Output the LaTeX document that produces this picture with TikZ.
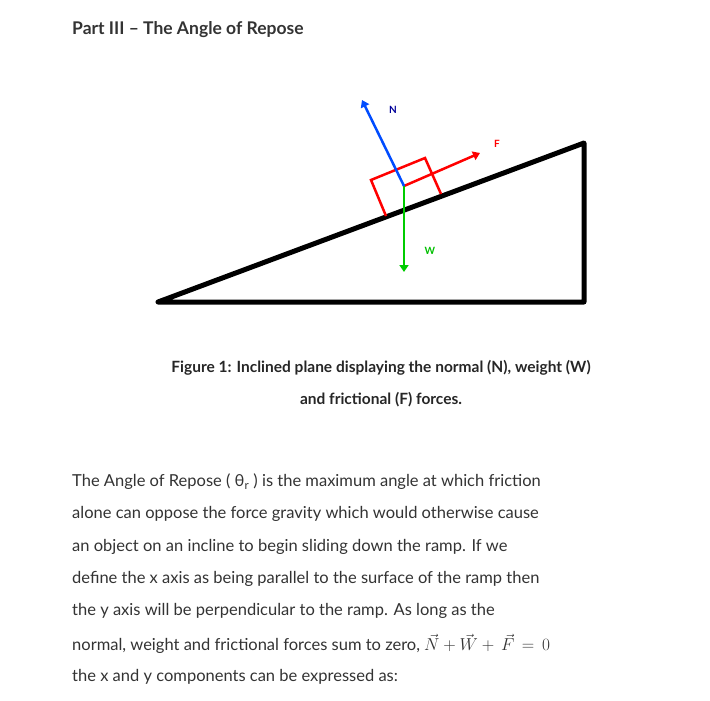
\documentclass[tikz,border=0pt]{standalone}
\usepackage{fontspec}
\setmainfont{Lato}
\usetikzlibrary{arrows.meta}
\begin{document}
\begin{tikzpicture}[x=1pt,y=-1pt,
  line/.style={anchor=west,font=\fontsize{16.5}{18}\selectfont,text=black!80,inner sep=0},
  capt/.style={font=\fontsize{15.5}{18}\selectfont\bfseries,text=black!85,inner sep=0},
  force/.style={line width=2.5pt,-{Triangle[length=7pt,width=9pt]}},
  flab/.style={font=\fontsize{10}{11}\selectfont\bfseries,inner sep=0}]
\useasboundingbox (0,0) rectangle (710,701);
\node[line,font=\fontsize{17.5}{20}\selectfont\bfseries] (title) at (72,30) {Part III – The Angle of Repose};
% ramp
\coordinate (A) at (158,302); \coordinate (B) at (584,143); \coordinate (C) at (584,302);
\draw[line width=5pt,line join=round] (A) -- (B) -- (C) -- cycle;
% box
\coordinate (O) at (404,186);
\draw[red,line width=2.5pt] (386,216) -- (371,180) -- (425,158) -- (441,194);
\draw[force,red] (O) -- (480,153);
\draw[force,green!80!black] (O) -- (404,272);
\draw[force,blue!70!cyan] (O) -- (362,100);
\node[flab,text=blue!60!black] (N) at (393,110) {N};
\node[flab,text=red] (F) at (497,144) {F};
\node[flab,text=green!75!black] (W) at (430,251) {W};
\node[capt] (c1) at (381,368) {Figure 1: Inclined plane displaying the normal (N), weight (W)};
\node[capt] (c2) at (381,400) {and frictional (F) forces.};
\node[line] (p1) at (72,482) {The Angle of Repose ( θ\textsubscript{r} ) is the maximum angle at which friction};
\node[line] (p2) at (72,514) {alone can oppose the force gravity which would otherwise cause};
\node[line] (p3) at (72,547) {an object on an incline to begin sliding down the ramp. If we};
\node[line] (p4) at (72,579) {define the x axis as being parallel to the surface of the ramp then};
\node[line] (p5) at (72,611) {the y axis will be perpendicular to the ramp. As long as the};
\node[line] (p6) at (72,644) {normal, weight and frictional forces sum to zero, $\vec N+\vec W+\,\vec F\,=\,0$};
\node[line] (p7) at (72,677) {the x and y components can be expressed as:};
\end{tikzpicture}
\end{document}
